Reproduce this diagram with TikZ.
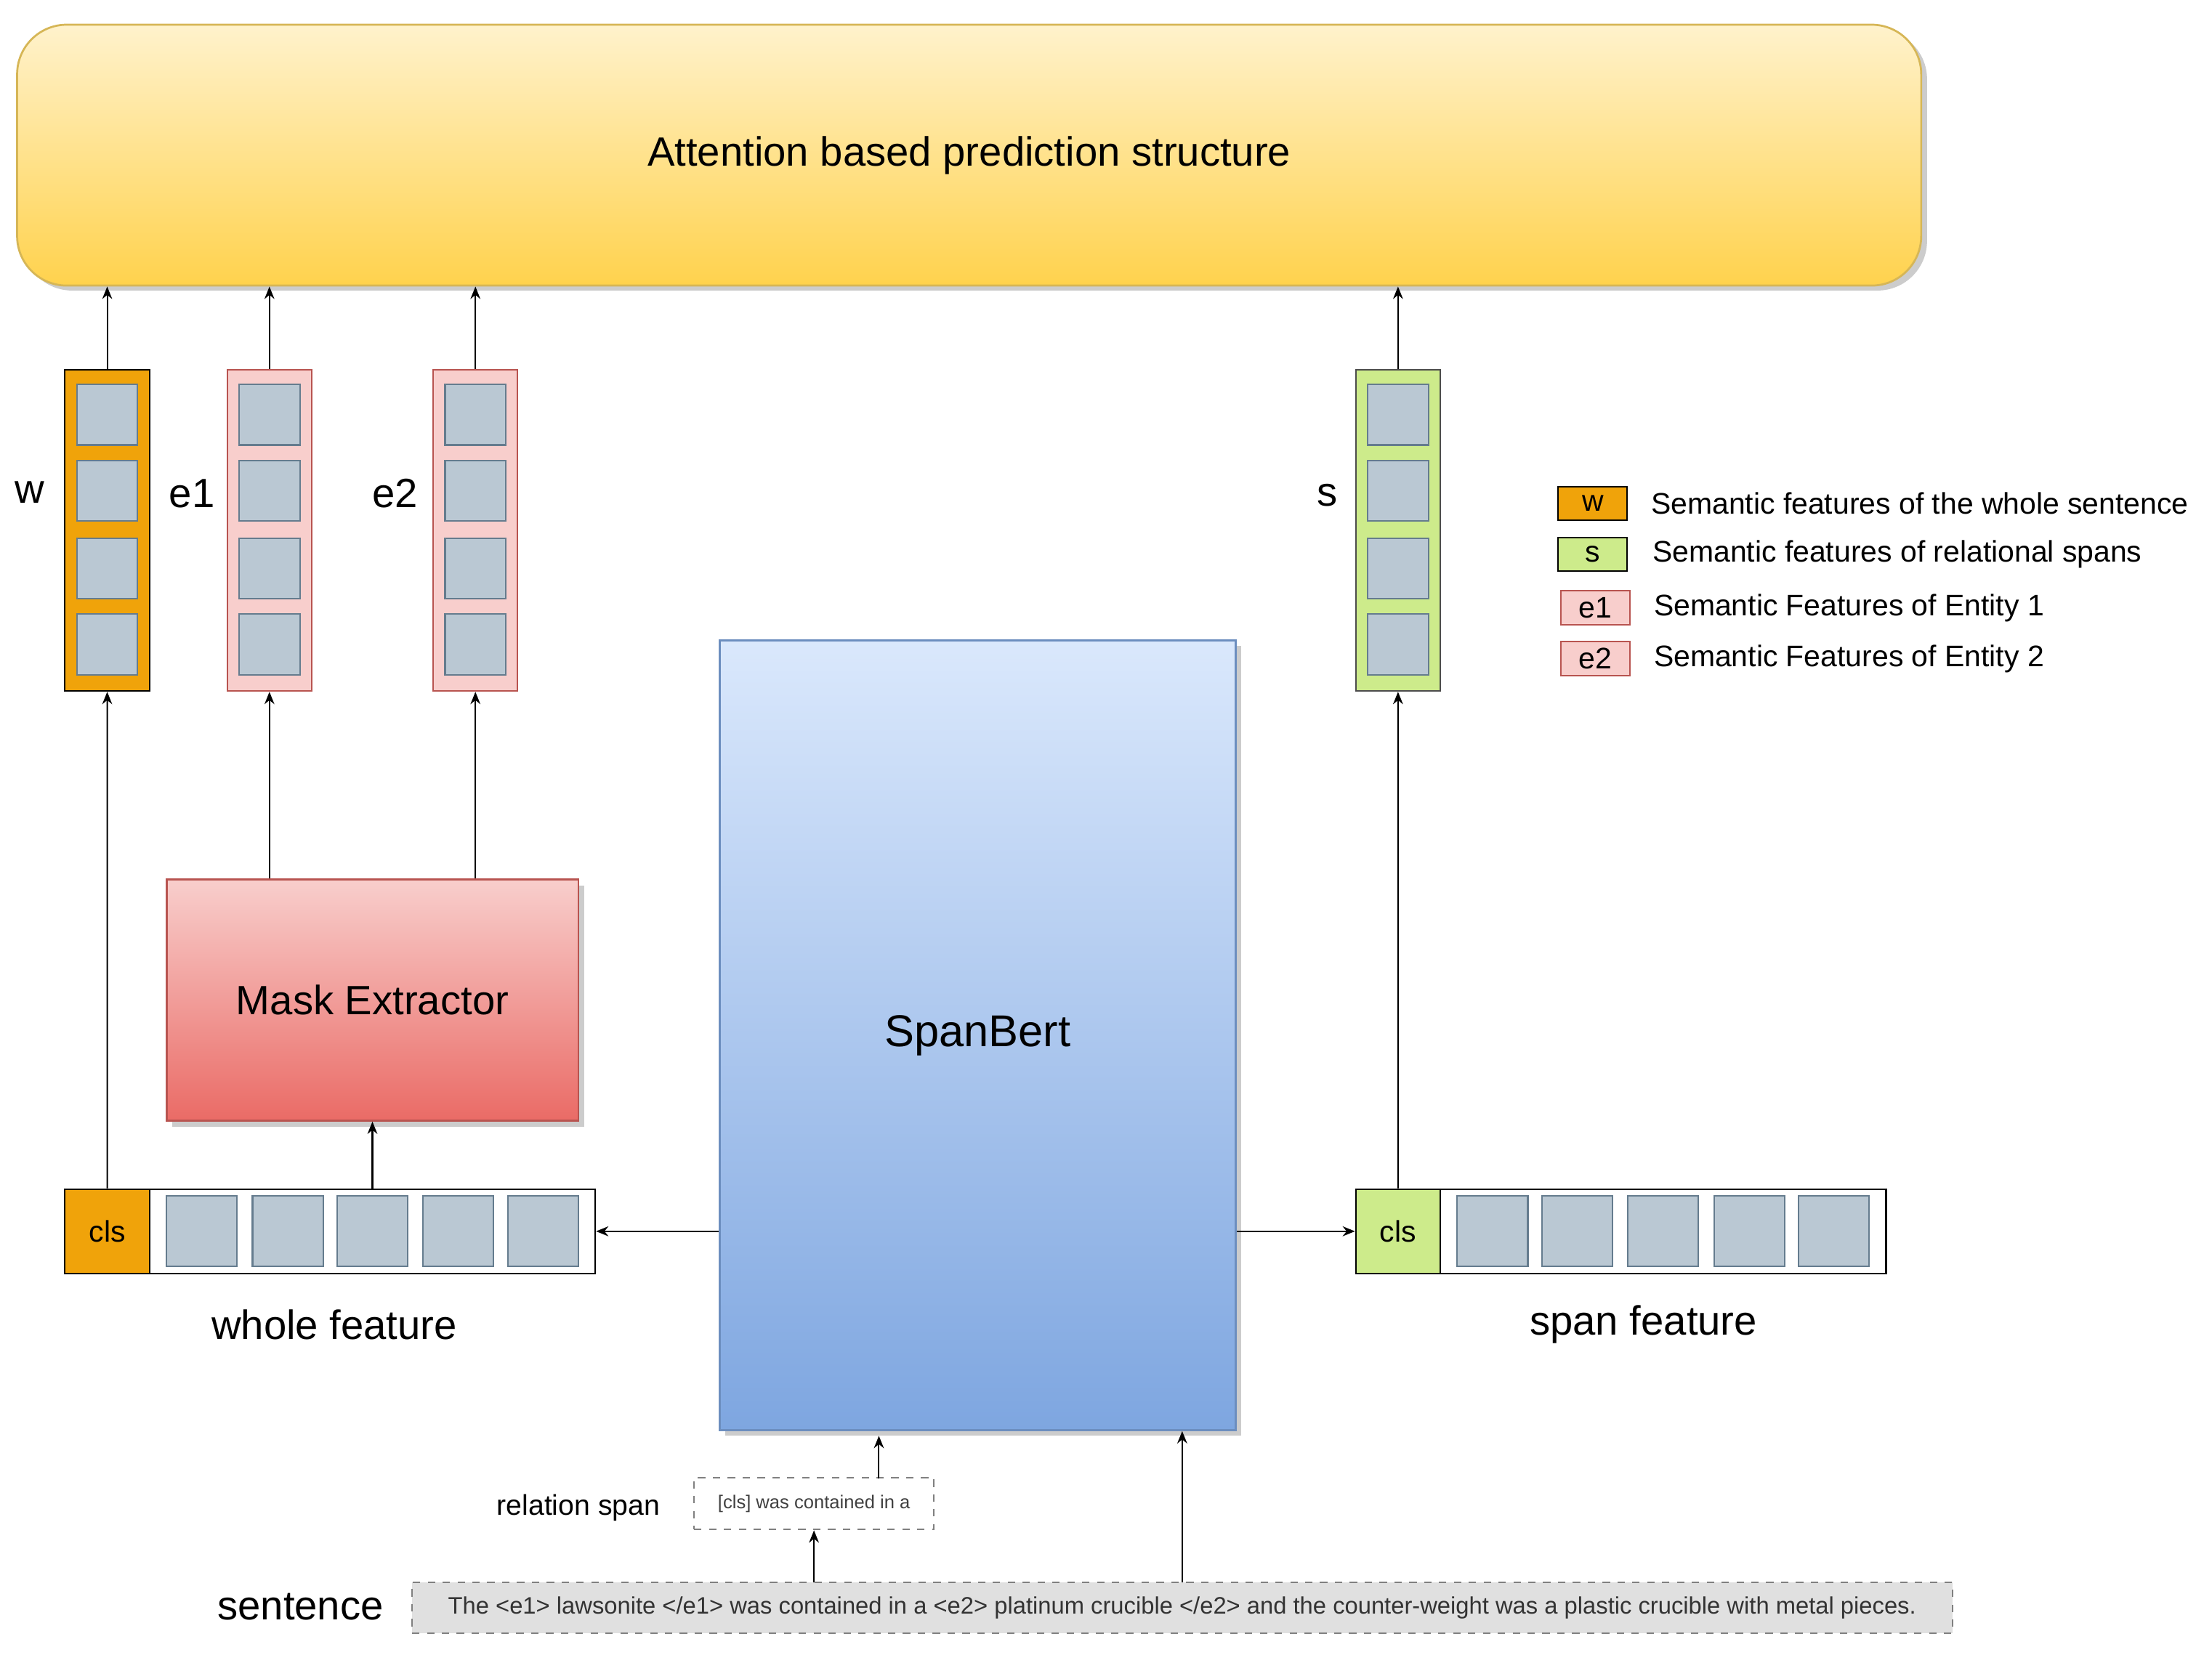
\documentclass[tikz,border=0pt]{standalone}
\usepackage{fontspec}
\setmainfont{Liberation Sans}
\usetikzlibrary{arrows.meta,positioning}

\definecolor{orangef}{HTML}{F0A30A}
\definecolor{pinkf}{HTML}{F8CECC}
\definecolor{pinkd}{HTML}{B85450}
\definecolor{redb}{HTML}{EA6B66}
\definecolor{greenf}{HTML}{CDEB8B}
\definecolor{cellf}{HTML}{BAC8D3}
\definecolor{celld}{HTML}{23445D}
\definecolor{bluet}{HTML}{DAE8FC}
\definecolor{blueb}{HTML}{7EA6E0}
\definecolor{blued}{HTML}{6C8EBF}
\definecolor{yellt}{HTML}{FFF2CC}
\definecolor{yellb}{HTML}{FFD24D}
\definecolor{yelld}{HTML}{D6B656}

\tikzset{
  vec/.style={draw,minimum width=1.2cm,minimum height=4.56cm,inner sep=0},
  cell/.style={draw=celld!70,fill=cellf,minimum width=0.86cm,minimum height=0.86cm,inner sep=0},
  row/.style={draw,minimum width=7.52cm,minimum height=1.2cm,inner sep=0},
  swatch/.style={draw,minimum width=0.98cm,minimum height=0.48cm,inner sep=0,font=\fontsize{12}{14}\selectfont},
  legtext/.style={anchor=west,font=\fontsize{12}{14}\selectfont},
  big/.style={font=\fontsize{16.5}{20}\selectfont}
}

\begin{document}
\begin{tikzpicture}[x=0.02cm,y=-0.02cm,>={Stealth[length=5pt,width=4pt]},semithick]
  \useasboundingbox (0,0) rectangle (1568,1173);
  % top block
  \fill[gray!40,rounded corners=20] (16,21) rectangle (1366,206);
  \node[draw=yelld,thick,rounded corners=20,top color=yellt,bottom color=yellb,
        minimum width=27cm,minimum height=3.7cm,big] (att) at (687,110) {Attention based prediction structure};
  % feature vectors
  \node[vec,fill=orangef] (w) at (76,376) {};
  \node[vec,fill=pinkf,draw=pinkd] (e1) at (191,376) {};
  \node[vec,fill=pinkf,draw=pinkd] (e2) at (337,376) {};
  \node[vec,fill=greenf,draw=black!70] (s) at (991,376) {};
  \foreach \v in {w,e1,e2,s}{
    \foreach \k/\dy in {1/-82,2/-28,3/27,4/81}
      \node[cell] (\v-\k) at ([yshift=-\dy*0.02cm]\v.center) {};
    \draw[->] (\v.north) -- (\v.north |- att.south);
  }
  \node[big] at (21,349) {w};
  \node[big] at (136,350) {e1};
  \node[big] at (280,350) {e2};
  \node[big] at (941,351) {s};
  % mask extractor
  \fill[gray!40] (122,628) rectangle (414,799);
  \node[draw=pinkd,thick,top color=pinkf,bottom color=redb,
        minimum width=5.84cm,minimum height=3.42cm,big] (mask) at (264,709) {Mask Extractor};
  \draw[->] (mask.north -| e1.south) -- (e1.south);
  \draw[->] (mask.north -| e2.south) -- (e2.south);
  % spanbert
  \fill[gray!40] (514,458) rectangle (880,1018);
  \node[draw=blued,thick,top color=bluet,bottom color=blueb,
        minimum width=7.32cm,minimum height=11.2cm,font=\fontsize{18}{22}\selectfont] (bert) at (693,734) {SpanBert};
  % whole feature row
  \node[row] (whole) at (234,873) {};
  \node[draw,fill=orangef,minimum width=1.2cm,minimum height=1.2cm,font=\fontsize{12}{14}\selectfont,anchor=west] (wcls) at (whole.west) {cls};
  \foreach \x [count=\i] in {143,204,264,325,385}
    \node[cell,minimum width=1cm,minimum height=1cm] (wc-\i) at (\x,873) {};
  \node[big] at (237,939) {whole feature};
  \draw[->] (wcls.north) -- (w.south);
  \draw[->] (wc-3.north |- whole.north) -- (mask.south);
  % span feature row
  \node[row] (span) at (1149,873) {};
  \node[draw,fill=greenf,minimum width=1.2cm,minimum height=1.2cm,font=\fontsize{12}{14}\selectfont,anchor=west] (scls) at (span.west) {cls};
  \foreach \x [count=\i] in {1058,1118,1179,1240,1300}
    \node[cell,minimum width=1cm,minimum height=1cm] (sc-\i) at (\x,873) {};
  \node[big] at (1165,939) {span feature};
  \draw[->] (scls.north) -- (s.south);
  \draw[->] (bert.west |- whole.east) -- (whole.east);
  \draw[->] (bert.east |- span.west) -- (span.west);
  % inputs
  \node[draw=gray,dashed,minimum width=3.4cm,minimum height=0.74cm,font=\fontsize{7.5}{9}\selectfont,text=black!75] (rel) at (577,1066) {[cls] was contained in a};
  \node[font=\fontsize{11.5}{14}\selectfont] at (410,1069) {relation span};
  \node[draw=gray,dashed,fill=black!12,minimum width=21.84cm,minimum height=0.72cm,font=\fontsize{9.6}{12}\selectfont,text=black!80] (sent) at (838,1140) {The <e1> lawsonite </e1> was contained in a <e2> platinum crucible </e2> and the counter-weight was a plastic crucible with metal pieces.};
  \node[big] at (213,1139) {sentence};
  \coordinate (relin) at (577,1122);
  \coordinate (bertin) at (838,1122);
  \draw[->] (relin) -- (rel.south);
  \draw[->] (bertin) -- (bertin |- bert.south);
  \draw[->] (623,1048) -- (623,1018);
  % legend
  \node[swatch,fill=orangef] (lw) at (1129,357) {w};
  \node[swatch,fill=greenf] (ls) at (1129,393) {s};
  \node[swatch,fill=pinkf,draw=pinkd] (le1) at (1131,431) {e1};
  \node[swatch,fill=pinkf,draw=pinkd] (le2) at (1131,467) {e2};
  \node[legtext,right=0.2cm of lw] {Semantic features of the whole sentence};
  \node[legtext,right=0.22cm of ls] {Semantic features of relational spans};
  \node[legtext,right=0.2cm of le1] {Semantic Features of Entity 1};
  \node[legtext,right=0.2cm of le2] {Semantic Features of Entity 2};
\end{tikzpicture}
\end{document}
